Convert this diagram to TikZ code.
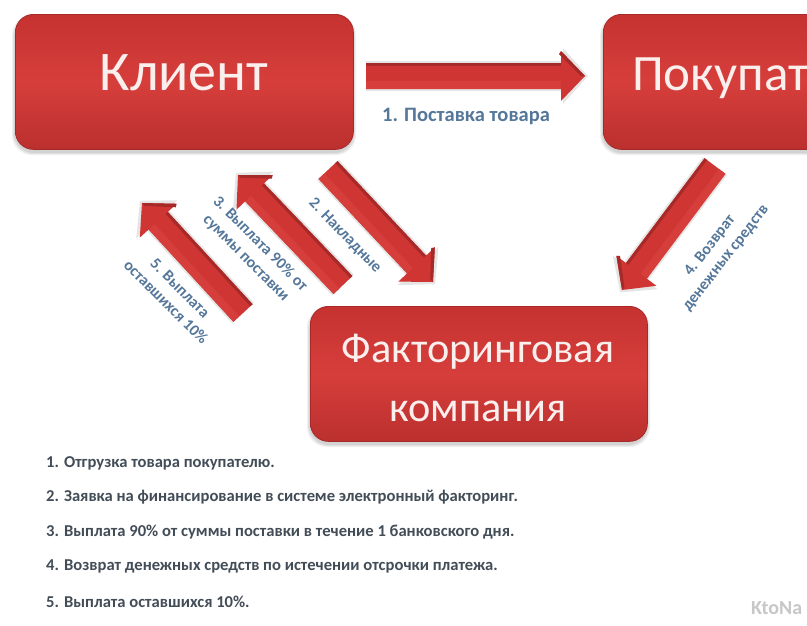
\documentclass[tikz,border=0pt]{standalone}
\usepackage{fontspec}
\setmainfont{Carlito}
\usetikzlibrary{calc}
\definecolor{bmid}{HTML}{CF3533}
\definecolor{bdark}{HTML}{A62A28}
\definecolor{blight}{HTML}{D63E3B}
\definecolor{lblue}{HTML}{55779A}
\definecolor{lgrey}{HTML}{434D58}
\definecolor{wtext}{HTML}{FBEFEE}
\tikzset{
  boxfill/.style={top color=bmid!95!black,bottom color=bmid!90!black,middle color=blight},
  boxshape/.style={draw=bdark,line width=.8pt,boxfill,rounded corners=18pt,minimum height=135pt,inner sep=0pt,anchor=north west},
  boxtext/.style={font=\fontsize{56}{66}\selectfont,text=wtext,align=center,inner sep=0pt},
  arrlabel/.style={font=\bfseries\fontsize{16}{20}\selectfont,text=lblue,align=center,inner sep=0pt},
  steplabel/.style={font=\bfseries\fontsize{16.6}{20}\selectfont,text=lgrey,anchor=west,inner sep=0pt},
  boxshadow/.style={fill=black,opacity=0.06},
}
\newcommand\softshadow[4]{%
  \foreach \e in {3,2,1}{\fill[boxshadow,rounded corners=20pt] (#1-\e,#2-\e+4) rectangle (#3+\e,#4+\e+3);}}
\newcommand\blockarrow[3]{%
  \path let \p1=($(#2)-(#1)$),\n1={atan2(\y1,\x1)},\n2={veclen(\x1,\y1)} in \pgfextra{\xdef\baang{\n1}\xdef\balen{\n2}};
  \pgfmathsetmacro\bal{\balen}
  \begin{scope}[shift={(#1)},rotate=\baang,x=1pt,y=1pt]
    \fill[black,opacity=.10] (0,-15)--(\bal-22,-15)--(\bal-22,-28)--(\bal+3,0)--(\bal-22,28)--(\bal-22,15)--(0,15)--cycle;
    \fill[bmid] (0,-13)--(\bal-24,-13)--(\bal-24,-25)--(\bal,0)--(\bal-24,25)--(\bal-24,13)--(0,13)--cycle;
    \fill[blight] (0,#3*13)--(\bal-24,#3*13)--(\bal-24,#3*5)--(0,#3*5)--cycle;
    \fill[bdark] (0,-#3*13)--(\bal-24,-#3*13)--(\bal-24,-#3*10)--(0,-#3*10)--cycle;
    \fill[bdark] (\bal-24,-#3*25)--(\bal,0)--(\bal-4,0)--(\bal-26,-#3*22)--cycle;
  \end{scope}}
\begin{document}
\begin{tikzpicture}[x=1pt,y=-1pt]
\useasboundingbox (0,0) rectangle (807,625);
\fill[white] (0,0) rectangle (807,625);
% client
\softshadow{15}{14}{353}{149}
\node[boxshape,minimum width=338pt] (client) at (15,14) {};
\node[boxtext] (clienttext) at (184,73) {Клиент};
% buyer
\begin{scope}
\clip (590,0) rectangle (807,170);
\softshadow{603}{14}{941}{149}
\node[boxshape,minimum width=338pt] (buyer) at (603,14) {};
\node[boxtext,font=\fontsize{51}{60}\selectfont,anchor=base west] (buyertext) at (632,90) {Покупат};
\end{scope}
% factoring
\softshadow{310}{306}{647}{441}
\node[boxshape,minimum width=337pt] (factor) at (310,306) {};
\node[boxtext,font=\fontsize{42.3}{59}\selectfont] (factortext) at (478,378) {Факторинговая\\компания};
% arrows
\coordinate (a1s) at (366,76); \coordinate (a1e) at (585,76);
\coordinate (a2s) at (328,170); \coordinate (a2e) at (433,282);
\coordinate (a3s) at (343,285); \coordinate (a3e) at (238,175);
\coordinate (a5s) at (243,313); \coordinate (a5e) at (142,203);
\coordinate (a4s) at (715,166); \coordinate (a4e) at (622,290);
\blockarrow{a1s}{a1e}{-1}
\blockarrow{a2s}{a2e}{-1}
\blockarrow{a3s}{a3e}{1}
\blockarrow{a5s}{a5e}{1}
\blockarrow{a4s}{a4e}{1}
% arrow labels
\node[arrlabel,font=\bfseries\fontsize{20.5}{24}\selectfont] (l1) at (466,116) {1. Поставка товара};
\node[arrlabel,rotate=-46] (l2) at (345,236) {2. Накладные};
\node[arrlabel,rotate=-45] (l3) at (253,251) {3. Выплата 90\% от\\суммы поставки};
\node[arrlabel,rotate=-45] (l5) at (173,295) {5. Выплата\\оставшихся 10\%};
\node[arrlabel,rotate=52] (l4) at (718,252) {4. Возврат\\денежных средств};
% list
\node[steplabel] (s1) at (46,463) {1. Отгрузка товара покупателю.};
\node[steplabel] (s2) at (46,497) {2. Заявка на финансирование в системе электронный факторинг.};
\node[steplabel] (s3) at (46,532) {3. Выплата 90\% от суммы поставки в течение 1 банковского дня.};
\node[steplabel] (s4) at (46,566) {4. Возврат денежных средств по истечении отсрочки платежа.};
\node[steplabel] (s5) at (46,602) {5. Выплата оставшихся 10\%.};
\node[font=\bfseries\fontsize{20}{24}\selectfont,text=black!22,anchor=west,inner sep=0pt] (wm) at (751,608) {KtoNa};
\end{tikzpicture}
\end{document}
